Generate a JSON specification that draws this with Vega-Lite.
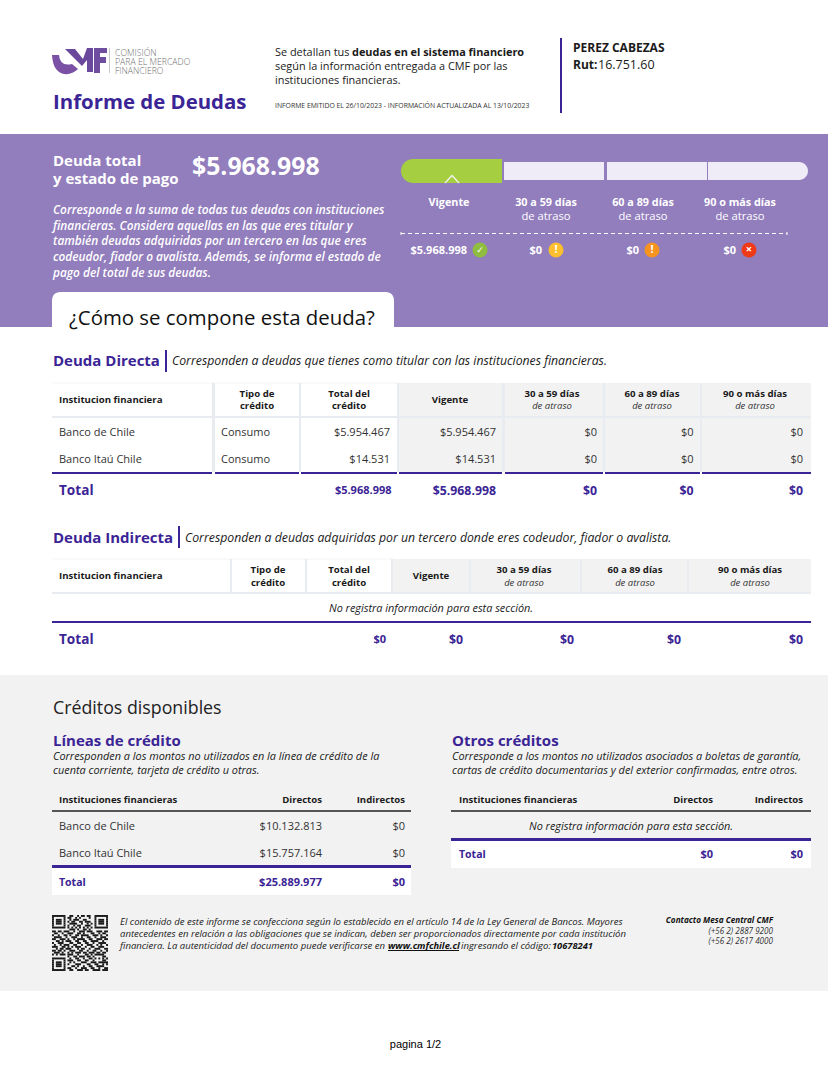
{
  "$schema": "https://vega.github.io/schema/vega-lite/v6.json",
  "width": 828,
  "height": 1073,
  "padding": 0,
  "autosize": {"type": "none"},
  "background": "#ffffff",
  "config": {
    "view": {"stroke": null},
    "text": {"font": "Open Sans", "baseline": "middle", "align": "left", "dy": 1}
  },
  "resolve": {"scale": {"x": "independent", "y": "independent"}},
  "layer": [
    {
      "encoding": {
        "x": {"field": "col", "type": "quantitative", "axis": null, "scale": {"domain": [0, 1], "range": [0, 828], "nice": false, "zero": false}},
        "x2": {"field": "col2"},
        "y": {"field": "line", "type": "quantitative", "axis": null, "scale": {"domain": [0, 1, 2, 3], "range": [134, 327, 675, 991], "nice": false, "zero": false}},
        "y2": {"field": "line2"}
      },
      "layer": [
        {"data": {"values": [{"band": "estado", "col": 0, "col2": 1, "line": 0, "line2": 1}]}, "mark": {"type": "rect", "color": "#927dbd"}},
        {"data": {"values": [{"band": "creditos", "col": 0, "col2": 1, "line": 2, "line2": 3}]}, "mark": {"type": "rect", "color": "#f2f2f2"}}
      ]
    },
    {
      "encoding": {
        "x": {"field": "col", "type": "quantitative", "axis": null, "scale": {"domain": [0, 1, 2, 3, 4, 5, 6, 7, 8], "range": [52, 53, 109.5, 115, 275, 352, 561, 573, 598], "nice": false, "zero": false}},
        "y": {"field": "line", "type": "quantitative", "axis": null, "scale": {"domain": [0, 1, 2, 3, 4, 5, 6, 7, 8, 9, 10, 11, 12], "range": [38, 47, 48, 52, 61, 64, 66, 70, 73, 80, 101.5, 105, 113], "nice": false, "zero": false}}
      },
      "layer": [
        {"data": {"values": [{"name": "C", "col": 0, "line": 1}]}, "mark": {"type": "point", "filled": true, "size": 4, "opacity": 1, "color": "#7a51a4", "strokeWidth": 0, "shape": "M0 8 L7 8 Q8 20 20 17 L26 22 Q20 28 12 27 Q1 25 0 8 Z"}},
        {"data": {"values": [{"name": "M", "col": 0, "line": 1}]}, "mark": {"type": "point", "filled": true, "size": 4, "opacity": 1, "color": "#6a489c", "strokeWidth": 0, "shape": "M13 2 L23 2 L31 12 L35 1 L41 1 L41 25 L35 25 L35 13 L30 19 Z"}},
        {"data": {"values": [{"name": "F", "col": 0, "line": 1}]}, "mark": {"type": "point", "filled": true, "size": 4, "opacity": 1, "color": "#6f4ea0", "strokeWidth": 0, "shape": "M42 1 L55 1 L55 6 L48 6 L48 10 L54 10 L54 16 L48 16 L48 26 L42 26 Z"}},
        {"data": {"values": [{"col": 2, "line": 2, "line2": 8}]}, "mark": {"type": "rule", "color": "#c9c9c9", "strokeWidth": 1}, "encoding": {"y2": {"field": "line2"}}},
        {"data": {"values": [{"col": 6, "line": 0, "line2": 12}]}, "mark": {"type": "rule", "color": "#3b2495", "strokeWidth": 2}, "encoding": {"y2": {"field": "line2"}}},
        {"data": {"values": [{"col": 3, "line": 3, "text": "COMISIÓN"}, {"col": 3, "line": 4, "text": "PARA EL MERCADO"}, {"col": 3, "line": 7, "text": "FINANCIERO"}]}, "mark": {"type": "text", "fontSize": 8.7, "fontWeight": 300, "color": "#6f6f6f"}, "encoding": {"text": {"field": "text"}}},
        {"data": {"values": [{"col": 1, "line": 10, "text": "Informe de Deudas"}]}, "mark": {"type": "text", "fontSize": 20.4, "fontWeight": 700, "color": "#3b2495"}, "encoding": {"text": {"field": "text"}}},
        {"data": {"values": [{"col": 4, "line": 3, "text": "Se detallan tus"}, {"col": 4, "line": 6, "text": "según la información entregada a CMF por las"}, {"col": 4, "line": 9, "text": "instituciones financieras."}]}, "mark": {"type": "text", "fontSize": 10.9, "color": "#1a1a1a"}, "encoding": {"text": {"field": "text"}}},
        {"data": {"values": [{"col": 5, "line": 3, "text": "deudas en el sistema financiero"}]}, "mark": {"type": "text", "fontSize": 10.9, "fontWeight": 700, "color": "#1a1a1a"}, "encoding": {"text": {"field": "text"}}},
        {"data": {"values": [{"col": 4, "line": 11, "text": "INFORME EMITIDO EL 26/10/2023 - INFORMACIÓN ACTUALIZADA AL 13/10/2023"}]}, "mark": {"type": "text", "fontSize": 6.85, "color": "#333333"}, "encoding": {"text": {"field": "text"}}},
        {"data": {"values": [{"col": 7, "line": 1, "text": "PEREZ CABEZAS"}, {"col": 7, "line": 5, "text": "Rut:"}]}, "mark": {"type": "text", "fontSize": 12, "fontWeight": 700, "color": "#1a1a1a"}, "encoding": {"text": {"field": "text"}}},
        {"data": {"values": [{"col": 8, "line": 5, "text": "16.751.60"}]}, "mark": {"type": "text", "fontSize": 12.5, "color": "#1a1a1a"}, "encoding": {"text": {"field": "text"}}}
      ]
    },
    {
      "encoding": {
        "x": {"field": "col", "type": "quantitative", "axis": null, "scale": {"domain": [0, 1, 2, 3, 4, 5, 6, 7, 8, 9, 10, 11, 12, 13, 14, 15, 16, 17, 18, 19, 20, 21, 22, 23, 24, 25, 26, 27, 28], "range": [52, 53, 69, 192, 394, 401, 445, 449, 452, 459, 467, 480, 502, 504, 542, 546, 556, 604, 607, 639, 643, 652, 707, 708, 736, 740, 749, 787, 808], "nice": false, "zero": false}},
        "y": {"field": "line", "type": "quantitative", "axis": null, "scale": {"domain": [0, 1, 2, 3, 4, 5, 6, 7, 8, 9, 10, 11, 12, 13, 14, 15, 16, 17, 18, 19, 20, 21], "range": [159, 159.5, 162, 167, 175.5, 177.5, 180, 183, 202, 208.5, 216, 224.5, 232, 233.5, 235, 239.5, 250, 255.5, 271.5, 292, 318, 327], "nice": false, "zero": false}}
      },
      "layer": [
        {"data": {"values": [{"name": "card", "col": 0, "col2": 4, "line": 19, "line2": 21}]}, "mark": {"type": "rect", "color": "#ffffff", "cornerRadiusTopLeft": 8, "cornerRadiusTopRight": 8}, "encoding": {"x2": {"field": "col2"}, "y2": {"field": "line2"}}},
        {"data": {"values": [{"name": "Vigente", "col": 5, "col2": 12, "line": 0, "line2": 7}]}, "mark": {"type": "rect", "color": "#a5cf41", "cornerRadiusTopLeft": 12, "cornerRadiusBottomLeft": 12}, "encoding": {"x2": {"field": "col2"}, "y2": {"field": "line2"}}},
        {"data": {"values": [{"name": "30 a 59", "col": 13, "col2": 17, "line": 2, "line2": 6}, {"name": "60 a 89", "col": 18, "col2": 22, "line": 2, "line2": 6}]}, "mark": {"type": "rect", "color": "#efecf8"}, "encoding": {"x2": {"field": "col2"}, "y2": {"field": "line2"}}},
        {"data": {"values": [{"name": "90 o mas", "col": 23, "col2": 28, "line": 2, "line2": 6}]}, "mark": {"type": "rect", "color": "#efecf8", "cornerRadiusTopRight": 9, "cornerRadiusBottomRight": 9}, "encoding": {"x2": {"field": "col2"}, "y2": {"field": "line2"}}},
        {"data": {"values": [{"col": 6, "line": 7}, {"col": 8, "line": 4}, {"col": 9, "line": 7}]}, "mark": {"type": "line", "color": "#f4f4f4", "strokeWidth": 1.2}},
        {"data": {"values": [{"col": 5, "col2": 27, "line": 13}]}, "mark": {"type": "rule", "color": "#ffffff", "strokeWidth": 1, "strokeDash": [4, 3]}, "encoding": {"x2": {"field": "col2"}}},
        {"data": {"values": [{"col": 5, "line": 12, "line2": 14}, {"col": 27, "line": 12, "line2": 14}]}, "mark": {"type": "rule", "color": "#ffffff", "strokeWidth": 1}, "encoding": {"y2": {"field": "line2"}}},
        {"data": {"values": [{"col": 1, "line": 1, "text": "Deuda total"}, {"col": 1, "line": 5, "text": "y estado de pago"}]}, "mark": {"type": "text", "fontSize": 15, "fontWeight": 700, "color": "#ffffff"}, "encoding": {"text": {"field": "text"}}},
        {"data": {"values": [{"col": 3, "line": 3, "text": "$5.968.998"}]}, "mark": {"type": "text", "fontSize": 24.8, "fontWeight": 700, "color": "#ffffff"}, "encoding": {"text": {"field": "text"}}},
        {"data": {"values": [{"col": 1, "line": 9, "text": "Corresponde a la suma de todas tus deudas con instituciones"}, {"col": 1, "line": 11, "text": "financieras. Considera aquellas en las que eres titular y"}, {"col": 1, "line": 15, "text": "también deudas adquiridas por un tercero en las que eres"}, {"col": 1, "line": 17, "text": "codeudor, fiador o avalista. Además, se informa el estado de"}, {"col": 1, "line": 18, "text": "pago del total de sus deudas."}]}, "mark": {"type": "text", "fontSize": 11.85, "fontStyle": "italic", "fontWeight": 600, "color": "#ffffff"}, "encoding": {"text": {"field": "text"}}},
        {"data": {"values": [{"col": 2, "line": 20, "text": "¿Cómo se compone esta deuda?"}]}, "mark": {"type": "text", "fontSize": 20.4, "color": "#111111"}, "encoding": {"text": {"field": "text"}}},
        {"data": {"values": [{"col": 7, "line": 8, "text": "Vigente"}, {"col": 15, "line": 8, "text": "30 a 59 días"}, {"col": 20, "line": 8, "text": "60 a 89 días"}, {"col": 25, "line": 8, "text": "90 o más días"}]}, "mark": {"type": "text", "fontSize": 10.8, "fontWeight": 700, "align": "center", "color": "#ffffff"}, "encoding": {"text": {"field": "text"}}},
        {"data": {"values": [{"col": 15, "line": 10, "text": "de atraso"}, {"col": 20, "line": 10, "text": "de atraso"}, {"col": 25, "line": 10, "text": "de atraso"}]}, "mark": {"type": "text", "fontSize": 11.2, "align": "center", "color": "#ffffff"}, "encoding": {"text": {"field": "text"}}},
        {"data": {"values": [{"col": 10, "line": 16, "text": "$5.968.998"}, {"col": 14, "line": 16, "text": "$0"}, {"col": 19, "line": 16, "text": "$0"}, {"col": 24, "line": 16, "text": "$0"}]}, "mark": {"type": "text", "fontSize": 11, "fontWeight": 700, "align": "right", "color": "#ffffff"}, "encoding": {"text": {"field": "text"}}},
        {"data": {"values": [{"estado": "al día", "col": 11, "line": 16}]}, "mark": {"type": "point", "filled": true, "opacity": 1, "size": 225, "shape": "circle", "color": "#8fbd3f"}},
        {"data": {"values": [{"estado": "atraso 30", "col": 16, "line": 16}]}, "mark": {"type": "point", "filled": true, "opacity": 1, "size": 225, "shape": "circle", "color": "#fdbf2d"}},
        {"data": {"values": [{"estado": "atraso 60", "col": 21, "line": 16}]}, "mark": {"type": "point", "filled": true, "opacity": 1, "size": 225, "shape": "circle", "color": "#f7931e"}},
        {"data": {"values": [{"estado": "atraso 90", "col": 26, "line": 16}]}, "mark": {"type": "point", "filled": true, "opacity": 1, "size": 225, "shape": "circle", "color": "#f03a17"}},
        {"data": {"values": [{"col": 11, "line": 16, "text": "✓"}]}, "mark": {"type": "text", "font": "DejaVu Sans", "fontSize": 9, "fontWeight": 700, "align": "center", "dy": 0, "color": "#ffffff"}, "encoding": {"text": {"field": "text"}}},
        {"data": {"values": [{"col": 16, "line": 16, "text": "!"}, {"col": 21, "line": 16, "text": "!"}, {"col": 26, "line": 16, "text": "×"}]}, "mark": {"type": "text", "fontSize": 11, "fontWeight": 700, "align": "center", "dy": 0, "color": "#ffffff"}, "encoding": {"text": {"field": "text"}}}
      ]
    },
    {
      "encoding": {
        "x": {"field": "col", "type": "quantitative", "axis": null, "scale": {"domain": [0, 1, 2, 3, 4, 5, 6, 7, 8, 9, 10, 11, 12, 13, 14, 15, 16, 17, 18, 19, 20, 21, 22, 23, 24, 25, 26, 27, 28, 29, 30], "range": [52, 53, 59, 166, 172, 212, 215, 221, 257, 299, 301, 349, 390, 391.5, 397, 399, 450, 496, 502, 505, 552, 597, 603, 605, 652, 693.5, 700, 702, 755, 803, 811], "nice": false, "zero": false}},
        "y": {"field": "line", "type": "quantitative", "axis": null, "scale": {"domain": [0, 1, 2, 3, 4, 5, 6, 7, 8, 9, 10, 11, 12, 13], "range": [350, 360, 372, 383, 392.5, 398.5, 404.5, 416, 418, 432, 459, 472, 474, 490], "nice": false, "zero": false}}
      },
      "layer": [
        {"data": {"values": [{"col": 15, "col2": 30, "line": 3, "line2": 11}]}, "mark": {"type": "rect", "color": "#f2f2f2"}, "encoding": {"x2": {"field": "col2"}, "y2": {"field": "line2"}}},
        {"data": {"values": [{"col": 0, "col2": 15, "line": 3}]}, "mark": {"type": "rule", "color": "#f4f4f4", "strokeWidth": 1}, "encoding": {"x2": {"field": "col2"}}},
        {"data": {"values": [{"col": 0, "col2": 30, "line": 7, "line2": 8}, {"col": 5, "col2": 6, "line": 3, "line2": 11}, {"col": 9, "col2": 10, "line": 3, "line2": 11}, {"col": 14, "col2": 15, "line": 3, "line2": 11}, {"col": 18, "col2": 19, "line": 3, "line2": 11}, {"col": 22, "col2": 23, "line": 3, "line2": 11}, {"col": 26, "col2": 27, "line": 3, "line2": 11}]}, "mark": {"type": "rect", "color": "#e8ebf0"}, "encoding": {"x2": {"field": "col2"}, "y2": {"field": "line2"}}},
        {"data": {"values": [{"col": 0, "col2": 5, "line": 11, "line2": 12}, {"col": 6, "col2": 9, "line": 11, "line2": 12}, {"col": 10, "col2": 14, "line": 11, "line2": 12}, {"col": 15, "col2": 18, "line": 11, "line2": 12}, {"col": 19, "col2": 22, "line": 11, "line2": 12}, {"col": 23, "col2": 26, "line": 11, "line2": 12}, {"col": 27, "col2": 30, "line": 11, "line2": 12}]}, "mark": {"type": "rect", "color": "#3b2495"}, "encoding": {"x2": {"field": "col2"}, "y2": {"field": "line2"}}},
        {"data": {"values": [{"col": 3, "line": 0, "line2": 2}]}, "mark": {"type": "rule", "color": "#3b2495", "strokeWidth": 2}, "encoding": {"y2": {"field": "line2"}}},
        {"data": {"values": [{"col": 1, "line": 1, "text": "Deuda Directa"}]}, "mark": {"type": "text", "fontSize": 15, "fontWeight": 700, "color": "#3b2495"}, "encoding": {"text": {"field": "text"}}},
        {"data": {"values": [{"col": 4, "line": 1, "text": "Corresponden a deudas que tienes como titular con las instituciones financieras."}]}, "mark": {"type": "text", "fontSize": 12.25, "fontStyle": "italic", "color": "#1a1a1a"}, "encoding": {"text": {"field": "text"}}},
        {"data": {"values": [{"col": 2, "line": 5, "text": "Institucion financiera"}]}, "mark": {"type": "text", "fontSize": 9.65, "fontWeight": 700, "color": "#1a1a1a"}, "encoding": {"text": {"field": "text"}}},
        {"data": {"values": [{"col": 8, "line": 4, "text": "Tipo de"}, {"col": 8, "line": 6, "text": "crédito"}, {"col": 11, "line": 4, "text": "Total del"}, {"col": 11, "line": 6, "text": "crédito"}, {"col": 16, "line": 5, "text": "Vigente"}, {"col": 20, "line": 4, "text": "30 a 59 días"}, {"col": 24, "line": 4, "text": "60 a 89 días"}, {"col": 28, "line": 4, "text": "90 o más días"}]}, "mark": {"type": "text", "fontSize": 9.65, "fontWeight": 700, "align": "center", "color": "#1a1a1a"}, "encoding": {"text": {"field": "text"}}},
        {"data": {"values": [{"col": 20, "line": 6, "text": "de atraso"}, {"col": 24, "line": 6, "text": "de atraso"}, {"col": 28, "line": 6, "text": "de atraso"}]}, "mark": {"type": "text", "fontSize": 9.5, "fontStyle": "italic", "align": "center", "color": "#333333"}, "encoding": {"text": {"field": "text"}}},
        {"data": {"values": [{"col": 2, "line": 9, "text": "Banco de Chile"}, {"col": 2, "line": 10, "text": "Banco Itaú Chile"}, {"col": 7, "line": 9, "text": "Consumo"}, {"col": 7, "line": 10, "text": "Consumo"}]}, "mark": {"type": "text", "fontSize": 11, "color": "#333333"}, "encoding": {"text": {"field": "text"}}},
        {"data": {"values": [{"col": 12, "line": 9, "text": "$5.954.467"}, {"col": 12, "line": 10, "text": "$14.531"}, {"col": 17, "line": 9, "text": "$5.954.467"}, {"col": 17, "line": 10, "text": "$14.531"}, {"col": 21, "line": 9, "text": "$0"}, {"col": 21, "line": 10, "text": "$0"}, {"col": 25, "line": 9, "text": "$0"}, {"col": 25, "line": 10, "text": "$0"}, {"col": 29, "line": 9, "text": "$0"}, {"col": 29, "line": 10, "text": "$0"}]}, "mark": {"type": "text", "fontSize": 11, "align": "right", "color": "#333333"}, "encoding": {"text": {"field": "text"}}},
        {"data": {"values": [{"col": 2, "line": 13, "text": "Total"}]}, "mark": {"type": "text", "fontSize": 13.6, "fontWeight": 700, "color": "#3b2495"}, "encoding": {"text": {"field": "text"}}},
        {"data": {"values": [{"col": 13, "line": 13, "text": "$5.968.998"}]}, "mark": {"type": "text", "fontSize": 11, "fontWeight": 700, "align": "right", "color": "#3b2495"}, "encoding": {"text": {"field": "text"}}},
        {"data": {"values": [{"col": 17, "line": 13, "text": "$5.968.998"}, {"col": 21, "line": 13, "text": "$0"}, {"col": 25, "line": 13, "text": "$0"}, {"col": 29, "line": 13, "text": "$0"}]}, "mark": {"type": "text", "fontSize": 12.3, "fontWeight": 700, "align": "right", "color": "#3b2495"}, "encoding": {"text": {"field": "text"}}}
      ]
    },
    {
      "encoding": {
        "x": {"field": "col", "type": "quantitative", "axis": null, "scale": {"domain": [0, 1, 2, 3, 4, 5, 6, 7, 8, 9, 10, 11, 12, 13, 14, 15, 16, 17, 18, 19, 20, 21, 22, 23, 24, 25, 26, 27, 28], "range": [52, 53, 59, 179, 185, 230, 232, 268, 305, 307, 349, 386, 391, 393, 431, 463, 469, 471, 524, 574, 580, 582, 635, 681, 687, 689, 750, 803, 811], "nice": false, "zero": false}},
        "y": {"field": "line", "type": "quantitative", "axis": null, "scale": {"domain": [0, 1, 2, 3, 4, 5, 6, 7, 8, 9, 10, 11, 12], "range": [526, 536.5, 548, 559, 568.5, 574.5, 581.5, 592, 594, 607.5, 621, 623, 638.5], "nice": false, "zero": false}}
      },
      "layer": [
        {"data": {"values": [{"col": 13, "col2": 28, "line": 3, "line2": 7}]}, "mark": {"type": "rect", "color": "#f2f2f2"}, "encoding": {"x2": {"field": "col2"}, "y2": {"field": "line2"}}},
        {"data": {"values": [{"col": 0, "col2": 13, "line": 3}]}, "mark": {"type": "rule", "color": "#f4f4f4", "strokeWidth": 1}, "encoding": {"x2": {"field": "col2"}}},
        {"data": {"values": [{"col": 0, "col2": 28, "line": 7, "line2": 8}, {"col": 5, "col2": 6, "line": 3, "line2": 7}, {"col": 8, "col2": 9, "line": 3, "line2": 7}, {"col": 12, "col2": 13, "line": 3, "line2": 7}, {"col": 16, "col2": 17, "line": 3, "line2": 7}, {"col": 20, "col2": 21, "line": 3, "line2": 7}, {"col": 24, "col2": 25, "line": 3, "line2": 7}]}, "mark": {"type": "rect", "color": "#e8ebf0"}, "encoding": {"x2": {"field": "col2"}, "y2": {"field": "line2"}}},
        {"data": {"values": [{"col": 0, "col2": 28, "line": 10, "line2": 11}]}, "mark": {"type": "rect", "color": "#3b2495"}, "encoding": {"x2": {"field": "col2"}, "y2": {"field": "line2"}}},
        {"data": {"values": [{"col": 3, "line": 0, "line2": 2}]}, "mark": {"type": "rule", "color": "#3b2495", "strokeWidth": 2}, "encoding": {"y2": {"field": "line2"}}},
        {"data": {"values": [{"col": 1, "line": 1, "text": "Deuda Indirecta"}]}, "mark": {"type": "text", "fontSize": 15, "fontWeight": 700, "color": "#3b2495"}, "encoding": {"text": {"field": "text"}}},
        {"data": {"values": [{"col": 4, "line": 1, "text": "Corresponden a deudas adquiridas por un tercero donde eres codeudor, fiador o avalista."}]}, "mark": {"type": "text", "fontSize": 12.25, "fontStyle": "italic", "color": "#1a1a1a"}, "encoding": {"text": {"field": "text"}}},
        {"data": {"values": [{"col": 2, "line": 5, "text": "Institucion financiera"}]}, "mark": {"type": "text", "fontSize": 9.65, "fontWeight": 700, "color": "#1a1a1a"}, "encoding": {"text": {"field": "text"}}},
        {"data": {"values": [{"col": 7, "line": 4, "text": "Tipo de"}, {"col": 7, "line": 6, "text": "crédito"}, {"col": 10, "line": 4, "text": "Total del"}, {"col": 10, "line": 6, "text": "crédito"}, {"col": 14, "line": 5, "text": "Vigente"}, {"col": 18, "line": 4, "text": "30 a 59 días"}, {"col": 22, "line": 4, "text": "60 a 89 días"}, {"col": 26, "line": 4, "text": "90 o más días"}]}, "mark": {"type": "text", "fontSize": 9.65, "fontWeight": 700, "align": "center", "color": "#1a1a1a"}, "encoding": {"text": {"field": "text"}}},
        {"data": {"values": [{"col": 18, "line": 6, "text": "de atraso"}, {"col": 22, "line": 6, "text": "de atraso"}, {"col": 26, "line": 6, "text": "de atraso"}]}, "mark": {"type": "text", "fontSize": 9.5, "fontStyle": "italic", "align": "center", "color": "#333333"}, "encoding": {"text": {"field": "text"}}},
        {"data": {"values": [{"col": 14, "line": 9, "text": "No registra información para esta sección."}]}, "mark": {"type": "text", "fontSize": 10.9, "fontStyle": "italic", "align": "center", "color": "#1a1a1a"}, "encoding": {"text": {"field": "text"}}},
        {"data": {"values": [{"col": 2, "line": 12, "text": "Total"}]}, "mark": {"type": "text", "fontSize": 13.6, "fontWeight": 700, "color": "#3b2495"}, "encoding": {"text": {"field": "text"}}},
        {"data": {"values": [{"col": 11, "line": 12, "text": "$0"}]}, "mark": {"type": "text", "fontSize": 11, "fontWeight": 700, "align": "right", "color": "#3b2495"}, "encoding": {"text": {"field": "text"}}},
        {"data": {"values": [{"col": 15, "line": 12, "text": "$0"}, {"col": 19, "line": 12, "text": "$0"}, {"col": 23, "line": 12, "text": "$0"}, {"col": 27, "line": 12, "text": "$0"}]}, "mark": {"type": "text", "fontSize": 12.3, "fontWeight": 700, "align": "right", "color": "#3b2495"}, "encoding": {"text": {"field": "text"}}}
      ]
    },
    {
      "encoding": {
        "x": {"field": "col", "type": "quantitative", "axis": null, "scale": {"domain": [0, 1, 2, 3, 4, 5, 6, 7, 8, 9, 10, 11, 12], "range": [52, 53, 59, 322, 405, 411, 451, 452, 459, 631, 713, 803, 811], "nice": false, "zero": false}},
        "y": {"field": "line", "type": "quantitative", "axis": null, "scale": {"domain": [0, 1, 2, 3, 4, 5, 6, 7, 8, 9, 10, 11, 12, 13, 14, 15], "range": [707.5, 739.5, 756, 770, 799, 810, 812, 826, 838, 841, 853, 854, 865, 868, 882, 895], "nice": false, "zero": false}}
      },
      "layer": [
        {"data": {"values": [{"col": 0, "col2": 5, "line": 13, "line2": 15}, {"col": 6, "col2": 12, "line": 9, "line2": 13}]}, "mark": {"type": "rect", "color": "#ffffff"}, "encoding": {"x2": {"field": "col2"}, "y2": {"field": "line2"}}},
        {"data": {"values": [{"col": 0, "col2": 5, "line": 5, "line2": 6}, {"col": 6, "col2": 12, "line": 5, "line2": 6}]}, "mark": {"type": "rect", "color": "#555555"}, "encoding": {"x2": {"field": "col2"}, "y2": {"field": "line2"}}},
        {"data": {"values": [{"col": 0, "col2": 5, "line": 12, "line2": 13}, {"col": 6, "col2": 12, "line": 8, "line2": 9}]}, "mark": {"type": "rect", "color": "#3b2495"}, "encoding": {"x2": {"field": "col2"}, "y2": {"field": "line2"}}},
        {"data": {"values": [{"col": 1, "line": 0, "text": "Créditos disponibles"}]}, "mark": {"type": "text", "fontSize": 17.8, "color": "#222222"}, "encoding": {"text": {"field": "text"}}},
        {"data": {"values": [{"col": 1, "line": 1, "text": "Líneas de crédito"}, {"col": 7, "line": 1, "text": "Otros créditos"}]}, "mark": {"type": "text", "fontSize": 15, "fontWeight": 700, "color": "#3b2495"}, "encoding": {"text": {"field": "text"}}},
        {"data": {"values": [{"col": 1, "line": 2, "text": "Corresponden a los montos no utilizados en la línea de crédito de la"}, {"col": 1, "line": 3, "text": "cuenta corriente, tarjeta de crédito u otras."}, {"col": 7, "line": 2, "text": "Corresponde a los montos no utilizados asociados a boletas de garantía,"}, {"col": 7, "line": 3, "text": "cartas de crédito documentarias y del exterior confirmadas, entre otros."}]}, "mark": {"type": "text", "fontSize": 10.9, "fontStyle": "italic", "color": "#1a1a1a"}, "encoding": {"text": {"field": "text"}}},
        {"data": {"values": [{"col": 2, "line": 4, "text": "Instituciones financieras"}, {"col": 8, "line": 4, "text": "Instituciones financieras"}]}, "mark": {"type": "text", "fontSize": 9.6, "fontWeight": 700, "color": "#1a1a1a"}, "encoding": {"text": {"field": "text"}}},
        {"data": {"values": [{"col": 3, "line": 4, "text": "Directos"}, {"col": 4, "line": 4, "text": "Indirectos"}, {"col": 10, "line": 4, "text": "Directos"}, {"col": 11, "line": 4, "text": "Indirectos"}]}, "mark": {"type": "text", "fontSize": 9.6, "fontWeight": 700, "align": "right", "color": "#1a1a1a"}, "encoding": {"text": {"field": "text"}}},
        {"data": {"values": [{"col": 2, "line": 7, "text": "Banco de Chile"}, {"col": 2, "line": 10, "text": "Banco Itaú Chile"}]}, "mark": {"type": "text", "fontSize": 11, "color": "#333333"}, "encoding": {"text": {"field": "text"}}},
        {"data": {"values": [{"col": 3, "line": 7, "text": "$10.132.813"}, {"col": 4, "line": 7, "text": "$0"}, {"col": 3, "line": 10, "text": "$15.757.164"}, {"col": 4, "line": 10, "text": "$0"}]}, "mark": {"type": "text", "fontSize": 11, "align": "right", "color": "#333333"}, "encoding": {"text": {"field": "text"}}},
        {"data": {"values": [{"col": 9, "line": 7, "text": "No registra información para esta sección."}]}, "mark": {"type": "text", "fontSize": 10.9, "fontStyle": "italic", "align": "center", "color": "#1a1a1a"}, "encoding": {"text": {"field": "text"}}},
        {"data": {"values": [{"col": 2, "line": 14, "text": "Total"}, {"col": 8, "line": 11, "text": "Total"}]}, "mark": {"type": "text", "fontSize": 10.5, "fontWeight": 700, "color": "#3b2495"}, "encoding": {"text": {"field": "text"}}},
        {"data": {"values": [{"col": 3, "line": 14, "text": "$25.889.977"}, {"col": 4, "line": 14, "text": "$0"}, {"col": 10, "line": 11, "text": "$0"}, {"col": 11, "line": 11, "text": "$0"}]}, "mark": {"type": "text", "fontSize": 11, "fontWeight": 700, "align": "right", "color": "#3b2495"}, "encoding": {"text": {"field": "text"}}}
      ]
    },
    {
      "encoding": {
        "x": {"field": "col", "type": "quantitative", "axis": null, "scale": {"domain": [0, 1, 2, 3, 4, 5, 6, 7], "range": [120, 388, 415.5, 459, 461, 552, 667, 773], "nice": false, "zero": false}},
        "y": {"field": "line", "type": "quantitative", "axis": null, "scale": {"domain": [0, 1, 2, 3, 4, 5, 6, 7], "range": [920, 921, 931, 933, 941, 945, 950.5, 1044], "nice": false, "zero": false}}
      },
      "layer": [
        {"data": {"values": [{"col": 0, "line": 1, "text": "El contenido de este informe se confecciona según lo establecido en el artículo 14 de la Ley General de Bancos. Mayores"}, {"col": 0, "line": 3, "text": "antecedentes en relación a las obligaciones que se indican, deben ser proporcionados directamente por cada institución"}, {"col": 0, "line": 5, "text": "financiera. La autenticidad del documento puede verificarse en"}, {"col": 4, "line": 5, "text": "ingresando el código:"}]}, "mark": {"type": "text", "fontSize": 9.55, "fontStyle": "italic", "color": "#1a1a1a"}, "encoding": {"text": {"field": "text"}}},
        {"data": {"values": [{"col": 1, "line": 5, "text": "www.cmfchile.cl"}, {"col": 5, "line": 5, "text": "10678241"}]}, "mark": {"type": "text", "fontSize": 9.3, "fontStyle": "italic", "fontWeight": 700, "color": "#111111"}, "encoding": {"text": {"field": "text"}}},
        {"data": {"values": [{"col": 1, "col2": 3, "line": 6}]}, "mark": {"type": "rule", "color": "#111111", "strokeWidth": 1}, "encoding": {"x2": {"field": "col2"}}},
        {"data": {"values": [{"col": 7, "line": 0, "text": "Contacto Mesa Central CMF"}]}, "mark": {"type": "text", "fontSize": 8.2, "fontStyle": "italic", "fontWeight": 700, "align": "right", "color": "#111111"}, "encoding": {"text": {"field": "text"}}},
        {"data": {"values": [{"col": 7, "line": 2, "text": "(+56 2) 2887 9200"}, {"col": 7, "line": 4, "text": "(+56 2) 2617 4000"}]}, "mark": {"type": "text", "fontSize": 8.1, "fontStyle": "italic", "align": "right", "color": "#333333"}, "encoding": {"text": {"field": "text"}}},
        {"data": {"values": [{"col": 2, "line": 7, "text": "pagina 1/2"}]}, "mark": {"type": "text", "font": "Liberation Sans", "fontSize": 11, "align": "center", "color": "#000000"}, "encoding": {"text": {"field": "text"}}}
      ]
    },
    {
      "data": {"values": [
        {"r":0,"c":0,"c2":7},{"r":0,"c":9,"c2":11},{"r":0,"c":13,"c2":14},{"r":0,"c":15,"c2":17},{"r":0,"c":18,"c2":20},{"r":0,"c":22,"c2":29},
        {"r":1,"c":0,"c2":1},{"r":1,"c":6,"c2":7},{"r":1,"c":8,"c2":10},{"r":1,"c":12,"c2":13},{"r":1,"c":14,"c2":15},{"r":1,"c":19,"c2":20},{"r":1,"c":22,"c2":23},{"r":1,"c":28,"c2":29},
        {"r":2,"c":0,"c2":1},{"r":2,"c":2,"c2":5},{"r":2,"c":6,"c2":7},{"r":2,"c":9,"c2":10},{"r":2,"c":11,"c2":14},{"r":2,"c":16,"c2":18},{"r":2,"c":22,"c2":23},{"r":2,"c":24,"c2":27},{"r":2,"c":28,"c2":29},
        {"r":3,"c":0,"c2":1},{"r":3,"c":2,"c2":5},{"r":3,"c":6,"c2":7},{"r":3,"c":8,"c2":9},{"r":3,"c":10,"c2":12},{"r":3,"c":14,"c2":16},{"r":3,"c":17,"c2":20},{"r":3,"c":22,"c2":23},{"r":3,"c":24,"c2":27},{"r":3,"c":28,"c2":29},
        {"r":4,"c":0,"c2":1},{"r":4,"c":2,"c2":5},{"r":4,"c":6,"c2":7},{"r":4,"c":9,"c2":13},{"r":4,"c":15,"c2":16},{"r":4,"c":18,"c2":19},{"r":4,"c":20,"c2":21},{"r":4,"c":22,"c2":23},{"r":4,"c":24,"c2":27},{"r":4,"c":28,"c2":29},
        {"r":5,"c":0,"c2":1},{"r":5,"c":6,"c2":7},{"r":5,"c":8,"c2":9},{"r":5,"c":11,"c2":12},{"r":5,"c":13,"c2":15},{"r":5,"c":17,"c2":20},{"r":5,"c":22,"c2":23},{"r":5,"c":28,"c2":29},
        {"r":6,"c":0,"c2":7},{"r":6,"c":8,"c2":9},{"r":6,"c":10,"c2":11},{"r":6,"c":12,"c2":13},{"r":6,"c":14,"c2":15},{"r":6,"c":16,"c2":17},{"r":6,"c":18,"c2":19},{"r":6,"c":20,"c2":21},{"r":6,"c":22,"c2":29},
        {"r":7,"c":9,"c2":12},{"r":7,"c":13,"c2":14},{"r":7,"c":16,"c2":18},{"r":7,"c":19,"c2":20},
        {"r":8,"c":0,"c2":2},{"r":8,"c":3,"c2":5},{"r":8,"c":6,"c2":9},{"r":8,"c":11,"c2":12},{"r":8,"c":14,"c2":17},{"r":8,"c":18,"c2":21},{"r":8,"c":23,"c2":26},{"r":8,"c":27,"c2":29},
        {"r":9,"c":1,"c2":3},{"r":9,"c":5,"c2":6},{"r":9,"c":8,"c2":11},{"r":9,"c":13,"c2":15},{"r":9,"c":16,"c2":17},{"r":9,"c":20,"c2":22},{"r":9,"c":24,"c2":25},{"r":9,"c":26,"c2":28},
        {"r":10,"c":0,"c2":1},{"r":10,"c":3,"c2":4},{"r":10,"c":6,"c2":8},{"r":10,"c":9,"c2":10},{"r":10,"c":12,"c2":14},{"r":10,"c":15,"c2":19},{"r":10,"c":21,"c2":24},{"r":10,"c":25,"c2":26},{"r":10,"c":28,"c2":29},
        {"r":11,"c":1,"c2":5},{"r":11,"c":7,"c2":8},{"r":11,"c":10,"c2":13},{"r":11,"c":15,"c2":16},{"r":11,"c":18,"c2":20},{"r":11,"c":22,"c2":23},{"r":11,"c":25,"c2":28},
        {"r":12,"c":0,"c2":2},{"r":12,"c":4,"c2":7},{"r":12,"c":8,"c2":9},{"r":12,"c":11,"c2":12},{"r":12,"c":13,"c2":17},{"r":12,"c":19,"c2":21},{"r":12,"c":23,"c2":26},{"r":12,"c":27,"c2":29},
        {"r":13,"c":2,"c2":4},{"r":13,"c":5,"c2":6},{"r":13,"c":7,"c2":10},{"r":13,"c":12,"c2":14},{"r":13,"c":16,"c2":18},{"r":13,"c":20,"c2":24},{"r":13,"c":26,"c2":27},
        {"r":14,"c":0,"c2":1},{"r":14,"c":3,"c2":6},{"r":14,"c":9,"c2":11},{"r":14,"c":13,"c2":15},{"r":14,"c":17,"c2":19},{"r":14,"c":21,"c2":22},{"r":14,"c":24,"c2":28},
        {"r":15,"c":1,"c2":2},{"r":15,"c":4,"c2":5},{"r":15,"c":6,"c2":9},{"r":15,"c":11,"c2":13},{"r":15,"c":15,"c2":16},{"r":15,"c":18,"c2":21},{"r":15,"c":23,"c2":24},{"r":15,"c":25,"c2":26},{"r":15,"c":28,"c2":29},
        {"r":16,"c":0,"c2":3},{"r":16,"c":5,"c2":7},{"r":16,"c":8,"c2":9},{"r":16,"c":10,"c2":11},{"r":16,"c":12,"c2":15},{"r":16,"c":17,"c2":18},{"r":16,"c":20,"c2":22},{"r":16,"c":24,"c2":27},
        {"r":17,"c":2,"c2":3},{"r":17,"c":4,"c2":6},{"r":17,"c":7,"c2":10},{"r":17,"c":13,"c2":14},{"r":17,"c":15,"c2":17},{"r":17,"c":19,"c2":20},{"r":17,"c":22,"c2":25},{"r":17,"c":27,"c2":29},
        {"r":18,"c":0,"c2":2},{"r":18,"c":3,"c2":5},{"r":18,"c":6,"c2":7},{"r":18,"c":9,"c2":12},{"r":18,"c":14,"c2":16},{"r":18,"c":18,"c2":19},{"r":18,"c":21,"c2":23},{"r":18,"c":25,"c2":26},{"r":18,"c":28,"c2":29},
        {"r":19,"c":1,"c2":4},{"r":19,"c":5,"c2":6},{"r":19,"c":8,"c2":9},{"r":19,"c":10,"c2":11},{"r":19,"c":12,"c2":15},{"r":19,"c":16,"c2":18},{"r":19,"c":19,"c2":22},{"r":19,"c":23,"c2":25},{"r":19,"c":26,"c2":28},
        {"r":20,"c":0,"c2":1},{"r":20,"c":2,"c2":3},{"r":20,"c":4,"c2":7},{"r":20,"c":8,"c2":11},{"r":20,"c":13,"c2":14},{"r":20,"c":17,"c2":19},{"r":20,"c":20,"c2":21},{"r":20,"c":22,"c2":27},
        {"r":21,"c":8,"c2":9},{"r":21,"c":11,"c2":13},{"r":21,"c":14,"c2":17},{"r":21,"c":18,"c2":20},{"r":21,"c":21,"c2":22},{"r":21,"c":26,"c2":28},
        {"r":22,"c":0,"c2":7},{"r":22,"c":9,"c2":10},{"r":22,"c":12,"c2":14},{"r":22,"c":16,"c2":17},{"r":22,"c":19,"c2":21},{"r":22,"c":22,"c2":23},{"r":22,"c":24,"c2":25},{"r":22,"c":26,"c2":27},{"r":22,"c":28,"c2":29},
        {"r":23,"c":0,"c2":1},{"r":23,"c":6,"c2":7},{"r":23,"c":8,"c2":11},{"r":23,"c":13,"c2":15},{"r":23,"c":17,"c2":19},{"r":23,"c":21,"c2":22},{"r":23,"c":26,"c2":28},
        {"r":24,"c":0,"c2":1},{"r":24,"c":2,"c2":5},{"r":24,"c":6,"c2":7},{"r":24,"c":9,"c2":10},{"r":24,"c":11,"c2":12},{"r":24,"c":15,"c2":18},{"r":24,"c":20,"c2":23},{"r":24,"c":24,"c2":29},
        {"r":25,"c":0,"c2":1},{"r":25,"c":2,"c2":5},{"r":25,"c":6,"c2":7},{"r":25,"c":8,"c2":9},{"r":25,"c":12,"c2":15},{"r":25,"c":18,"c2":20},{"r":25,"c":22,"c2":24},{"r":25,"c":26,"c2":27},{"r":25,"c":28,"c2":29},
        {"r":26,"c":0,"c2":1},{"r":26,"c":2,"c2":5},{"r":26,"c":6,"c2":7},{"r":26,"c":10,"c2":12},{"r":26,"c":13,"c2":14},{"r":26,"c":16,"c2":17},{"r":26,"c":19,"c2":21},{"r":26,"c":23,"c2":27},
        {"r":27,"c":0,"c2":1},{"r":27,"c":6,"c2":7},{"r":27,"c":8,"c2":10},{"r":27,"c":12,"c2":13},{"r":27,"c":15,"c2":18},{"r":27,"c":20,"c2":22},{"r":27,"c":24,"c2":25},{"r":27,"c":27,"c2":29},
        {"r":28,"c":0,"c2":7},{"r":28,"c":9,"c2":11},{"r":28,"c":13,"c2":16},{"r":28,"c":17,"c2":19},{"r":28,"c":21,"c2":25},{"r":28,"c":26,"c2":29}
      ]},
      "mark": {"type": "rect", "color": "#1a1a1a"},
      "encoding": {
        "x": {"field": "c", "type": "quantitative", "axis": null, "scale": {"domain": [0, 29], "range": [52, 108], "nice": false, "zero": false}},
        "x2": {"field": "c2"},
        "y": {"field": "r", "type": "ordinal", "axis": null, "scale": {"type": "band", "paddingInner": 0, "paddingOuter": 0, "range": [915, 971]}}
      }
    }
  ]
}
